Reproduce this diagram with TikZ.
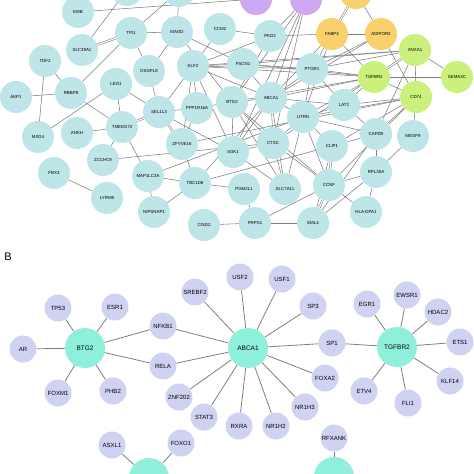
\documentclass[tikz,border=0pt]{standalone}
\usepackage{fontspec}
\setmainfont{Liberation Sans}
\usetikzlibrary{backgrounds}

\definecolor{geneblue}{HTML}{BEE6E8}
\definecolor{genepurple}{HTML}{CFA8F2}
\definecolor{geneyellow}{HTML}{F8D06C}
\definecolor{genegreen}{HTML}{CBF07C}
\definecolor{tfnode}{HTML}{CFD2F1}
\definecolor{hubnode}{HTML}{8EF0DA}
\definecolor{linkgray}{HTML}{7E7E7E}

\begin{document}
\begin{tikzpicture}[x=1pt,y=-1pt,
  gene/.style={circle,fill=geneblue,minimum size=32pt,inner sep=0pt,font=\fontsize{4.4}{5}\selectfont},
  tf/.style={circle,fill=tfnode,minimum size=27pt,inner sep=0pt,font=\fontsize{6}{7}\selectfont},
  hub/.style={circle,fill=hubnode,minimum size=40pt,inner sep=0pt,font=\fontsize{6.5}{7}\selectfont},
  link/.style={draw=linkgray,line width=0.55pt},
  twin/.style={link,double=white,double distance=1.1pt},
  spoke/.style={draw=linkgray,line width=0.8pt}]
\useasboundingbox (0,0) rectangle (474,474);
\clip (0,0) rectangle (474,474);

% Panel A: co-expression network (cut at the top)
\node[gene] (atopA) at (127,-10) {};
\node[gene] (atopB) at (179,-9) {};
\node[gene,fill=genepurple] (apurpA) at (256,-1) {};
\node[gene,fill=genepurple] (apurpB) at (306,-1) {};
\node[gene,fill=geneyellow] (ayelA) at (356,-7) {};
\node[gene] (aEMB) at (78,12) {EMB};
\node[gene] (aTPI) at (131,33) {TPI1};
\node[gene] (aMAGD) at (177,32) {MAGD};
\node[gene] (aCCM) at (220,29) {CCM2};
\node[gene] (aPKD) at (270,36) {PKD2};
\node[gene,fill=geneyellow] (aFABP) at (332,34) {FABP4};
\node[gene,fill=geneyellow] (aADIPOR) at (381,34) {ADIPOR2};
\node[gene,fill=genegreen] (aANXA) at (415,50) {ANXA1};
\node[gene,fill=genegreen] (aSEMA) at (457,77) {SEMA3C};
\node[gene,fill=genegreen] (aTGFBR) at (374,77) {TGFBR2};
\node[gene,fill=genegreen] (aCD) at (416,97) {CD74};
\node[gene] (aSLC39) at (82,50) {SLC39A1};
\node[gene] (aTDF) at (45,61) {TDF2};
\node[gene] (aOGFL) at (149,71) {OSGPL8};
\node[gene] (aKLF) at (193,66) {KLF2};
\node[gene] (aFSCN) at (243,64) {FSCN1};
\node[gene] (aPTGR) at (312,69) {PTGR1};
\node[gene] (aAKP) at (16,97) {AKP1};
\node[gene] (aRBBP) at (71,93) {RBBP8};
\node[gene] (aLEO) at (116,84) {LEO1};
\node[gene] (aSEL) at (159,112) {SEL1L3};
\node[gene] (aPPP) at (197,108) {PPP1R16A};
\node[gene] (aBTG) at (232,102) {BTG2};
\node[gene] (aABCA) at (271,98) {ABCA1};
\node[gene] (aLAT) at (344,105) {LAT2};
\node[gene] (aUTRN) at (303,117) {UTRN};
\node[gene] (aMXD) at (38,137) {MXD4};
\node[gene] (aANKH) at (77,133) {ANKH};
\node[gene] (aTMEM) at (122,127) {TMEM173};
\node[gene] (aZFYVE) at (182,144) {ZFYVE16};
\node[gene] (aSGK) at (233,152) {SGK1};
\node[gene] (aCTSC) at (273,143) {CTSC};
\node[gene] (aCLIP) at (332,146) {CLIP1};
\node[gene] (aCAPZB) at (376,134) {CAPZB};
\node[gene] (aMEGF) at (413,136) {MEGF9};
\node[gene] (aZCCHC) at (103,160) {ZCCHC9};
\node[gene] (aFBX) at (54,173) {FBX3};
\node[gene] (aMAP) at (148,176) {MAP1LC3A};
\node[gene] (aTBC) at (195,183) {TBC1D8};
\node[gene] (aPGM) at (244,189) {PGM2L1};
\node[gene] (aSLC7) at (285,189) {SLC7A11};
\node[gene] (aCCNF) at (329,185) {CCNF};
\node[gene] (aRPL) at (376,172) {RPL35A};
\node[gene] (aLYRM) at (107,198) {LYRM9};
\node[gene] (aNIPSNAP) at (154,212) {NIPSNAP1};
\node[gene] (aCISD) at (204,225) {CISD2};
\node[gene] (aPRPS) at (255,223) {PRPS1};
\node[gene] (aEML) at (313,223) {EML4};
\node[gene] (aHLA) at (366,212) {HLA-DPA1};

\begin{scope}[on background layer]
\foreach \u/\v in {aEMB/apurpA,atopA/aSLC39,atopB/aTPI,atopB/aMAGD,aTPI/aMAGD,aTPI/aOGFL,
  aTPI/aRBBP,aMAGD/aOGFL,aMAGD/aFSCN,aMAGD/aBTG,aCCM/aPKD,aCCM/aKLF,aPKD/apurpB,aPKD/aFABP,
  aPKD/aKLF,aPKD/aBTG,aKLF/aFSCN,aKLF/aPTGR,aKLF/aTGFBR,aKLF/aABCA,aKLF/aSGK,aKLF/aPPP,
  aKLF/aSEL,aKLF/aANXA,aFSCN/aANXA,aFSCN/aPTGR,aFSCN/aTGFBR,aFSCN/aABCA,apurpB/aABCA,
  apurpB/aBTG,apurpB/aSGK,apurpB/aCTSC,ayelA/aADIPOR,aFABP/aADIPOR,aFABP/aTGFBR,aFABP/aPTGR,
  aFABP/aABCA,aFABP/aUTRN,aADIPOR/aCD,aADIPOR/aPTGR,aADIPOR/aABCA,aANXA/aSEMA,aANXA/aCD,
  aANXA/aPTGR,aANXA/aCAPZB,aTGFBR/aSEMA,aTGFBR/aCD,aTGFBR/aPTGR,aTGFBR/aABCA,aTGFBR/aUTRN,
  aTGFBR/aLAT,aTGFBR/aBTG,aTGFBR/aCTSC,aCD/aLAT,aCD/aCAPZB,aCD/aMEGF,aCD/aCLIP,aCD/aUTRN,
  aCD/aZFYVE,aCD/aCCNF,aABCA/aBTG,aABCA/aLAT,aABCA/aCTSC,aABCA/aSGK,aABCA/aUTRN,aBTG/aPPP,
  aBTG/aSGK,aBTG/aSLC7,aBTG/aCCNF,aBTG/aCTSC,aLEO/aSEL,aLEO/aMXD,aLEO/aTMEM,aRBBP/aAKP,
  aRBBP/aTDF,aRBBP/aTMEM,aTDF/aMXD,aSEL/aOGFL,aSEL/aPPP,aSEL/aSGK,aANKH/aTMEM,aTMEM/aZCCHC,
  aTMEM/aMAP,aZCCHC/aCTSC,aZFYVE/aTBC,aZFYVE/aKLF,aZFYVE/aPPP,aMAP/aTBC,aMAP/aNIPSNAP,
  aMAP/aUTRN,aTBC/aNIPSNAP,aTBC/aPGM,aTBC/aCLIP,aTBC/aABCA,aFBX/aLYRM,aCISD/aPRPS,aPRPS/aEML,
  aPRPS/aPGM,aPRPS/aCCNF,aEML/aRPL,aEML/aCAPZB,aEML/aCLIP,aCCNF/aRPL,aCCNF/aHLA,aCCNF/aCTSC,
  aCCNF/aUTRN,aRPL/aHLA,aRPL/aCAPZB,aMEGF/aRPL,aSLC7/aSGK,aSLC7/aCTSC,aSLC7/aUTRN,aSLC7/aABCA,
  aUTRN/aCLIP,aUTRN/aLAT,aUTRN/aCAPZB,aCLIP/aCAPZB,aLAT/aCAPZB,aSGK/aCTSC,aCTSC/aUTRN,
  aPTGR/aABCA,aPTGR/aUTRN,aPTGR/aLAT}
  \draw[link] (\u) -- (\v);
% doubled links
\foreach \u/\v in {aTPI/aSLC39,aSEL/aTMEM,aSEL/aZFYVE,aANXA/aTGFBR,aCCNF/aCLIP,aEML/aCCNF,ayelA/aFABP}
  \draw[twin] (\u) -- (\v);
\end{scope}

% Panel B: transcription factors of the hub genes
\node[font=\fontsize{11}{12}\selectfont] (labB) at (8,257) {B};

\node[hub] (bBTG) at (85,348) {BTG2};
\node[hub] (bABCA) at (248,348) {ABCA1};
\node[hub] (bTGFBR) at (397,347) {TGFBR2};
\node[hub] (bHubC) at (149,478) {};
\node[hub] (bHubD) at (334,477) {};

\node[tf] (bTP53) at (58,308) {TP53};
\node[tf] (bESR1) at (115,307) {ESR1};
\node[tf] (bAR) at (23,349) {AR};
\node[tf] (bFOXM1) at (58,393) {FOXM1};
\node[tf] (bPHB2) at (113,391) {PHB2};
\node[tf] (bNFKB1) at (163,326) {NFKB1};
\node[tf] (bRELA) at (163,366) {RELA};
\node[tf] (bSREBF2) at (195,292) {SREBF2};
\node[tf] (bUSF2) at (240,277) {USF2};
\node[tf] (bUSF1) at (282,279) {USF1};
\node[tf] (bSP3) at (313,306) {SP3};
\node[tf] (bSP1) at (332,343) {SP1};
\node[tf] (bFOXA2) at (325,378) {FOXA2};
\node[tf] (bNR1H3) at (305,407) {NR1H3};
\node[tf] (bNR1H2) at (276,426) {NR1H2};
\node[tf] (bRXRA) at (239,426) {RXRA};
\node[tf] (bSTAT3) at (204,417) {STAT3};
\node[tf] (bZNF202) at (179,397) {ZNF202};
\node[tf] (bEGR1) at (367,304) {EGR1};
\node[tf] (bEWSR1) at (407,295) {EWSR1};
\node[tf] (bHDAC2) at (438,312) {HDAC2};
\node[tf] (bETS1) at (460,342) {ETS1};
\node[tf] (bKLF14) at (450,381) {KLF14};
\node[tf] (bFLI1) at (408,403) {FLI1};
\node[tf] (bETV4) at (364,391) {ETV4};
\node[tf] (bASXL1) at (112,445) {ASXL1};
\node[tf] (bFOXO1) at (181,443) {FOXO1};
\node[tf] (bRFXANK) at (334,438) {RFXANK};

\begin{scope}[on background layer]
\foreach \t in {bTP53,bESR1,bAR,bFOXM1,bPHB2,bNFKB1,bRELA}
  \draw[spoke] (bBTG) -- (\t);
\foreach \t in {bNFKB1,bRELA,bSREBF2,bUSF2,bUSF1,bSP3,bSP1,bFOXA2,bNR1H3,bNR1H2,bRXRA,bSTAT3,bZNF202}
  \draw[spoke] (bABCA) -- (\t);
\foreach \t in {bSP1,bEGR1,bEWSR1,bHDAC2,bETS1,bKLF14,bFLI1,bETV4}
  \draw[spoke] (bTGFBR) -- (\t);
\draw[spoke] (bHubC) -- (bASXL1);
\draw[spoke] (bHubC) -- (bFOXO1);
\draw[spoke] (bHubD) -- (bRFXANK);
\end{scope}
\end{tikzpicture}
\end{document}
